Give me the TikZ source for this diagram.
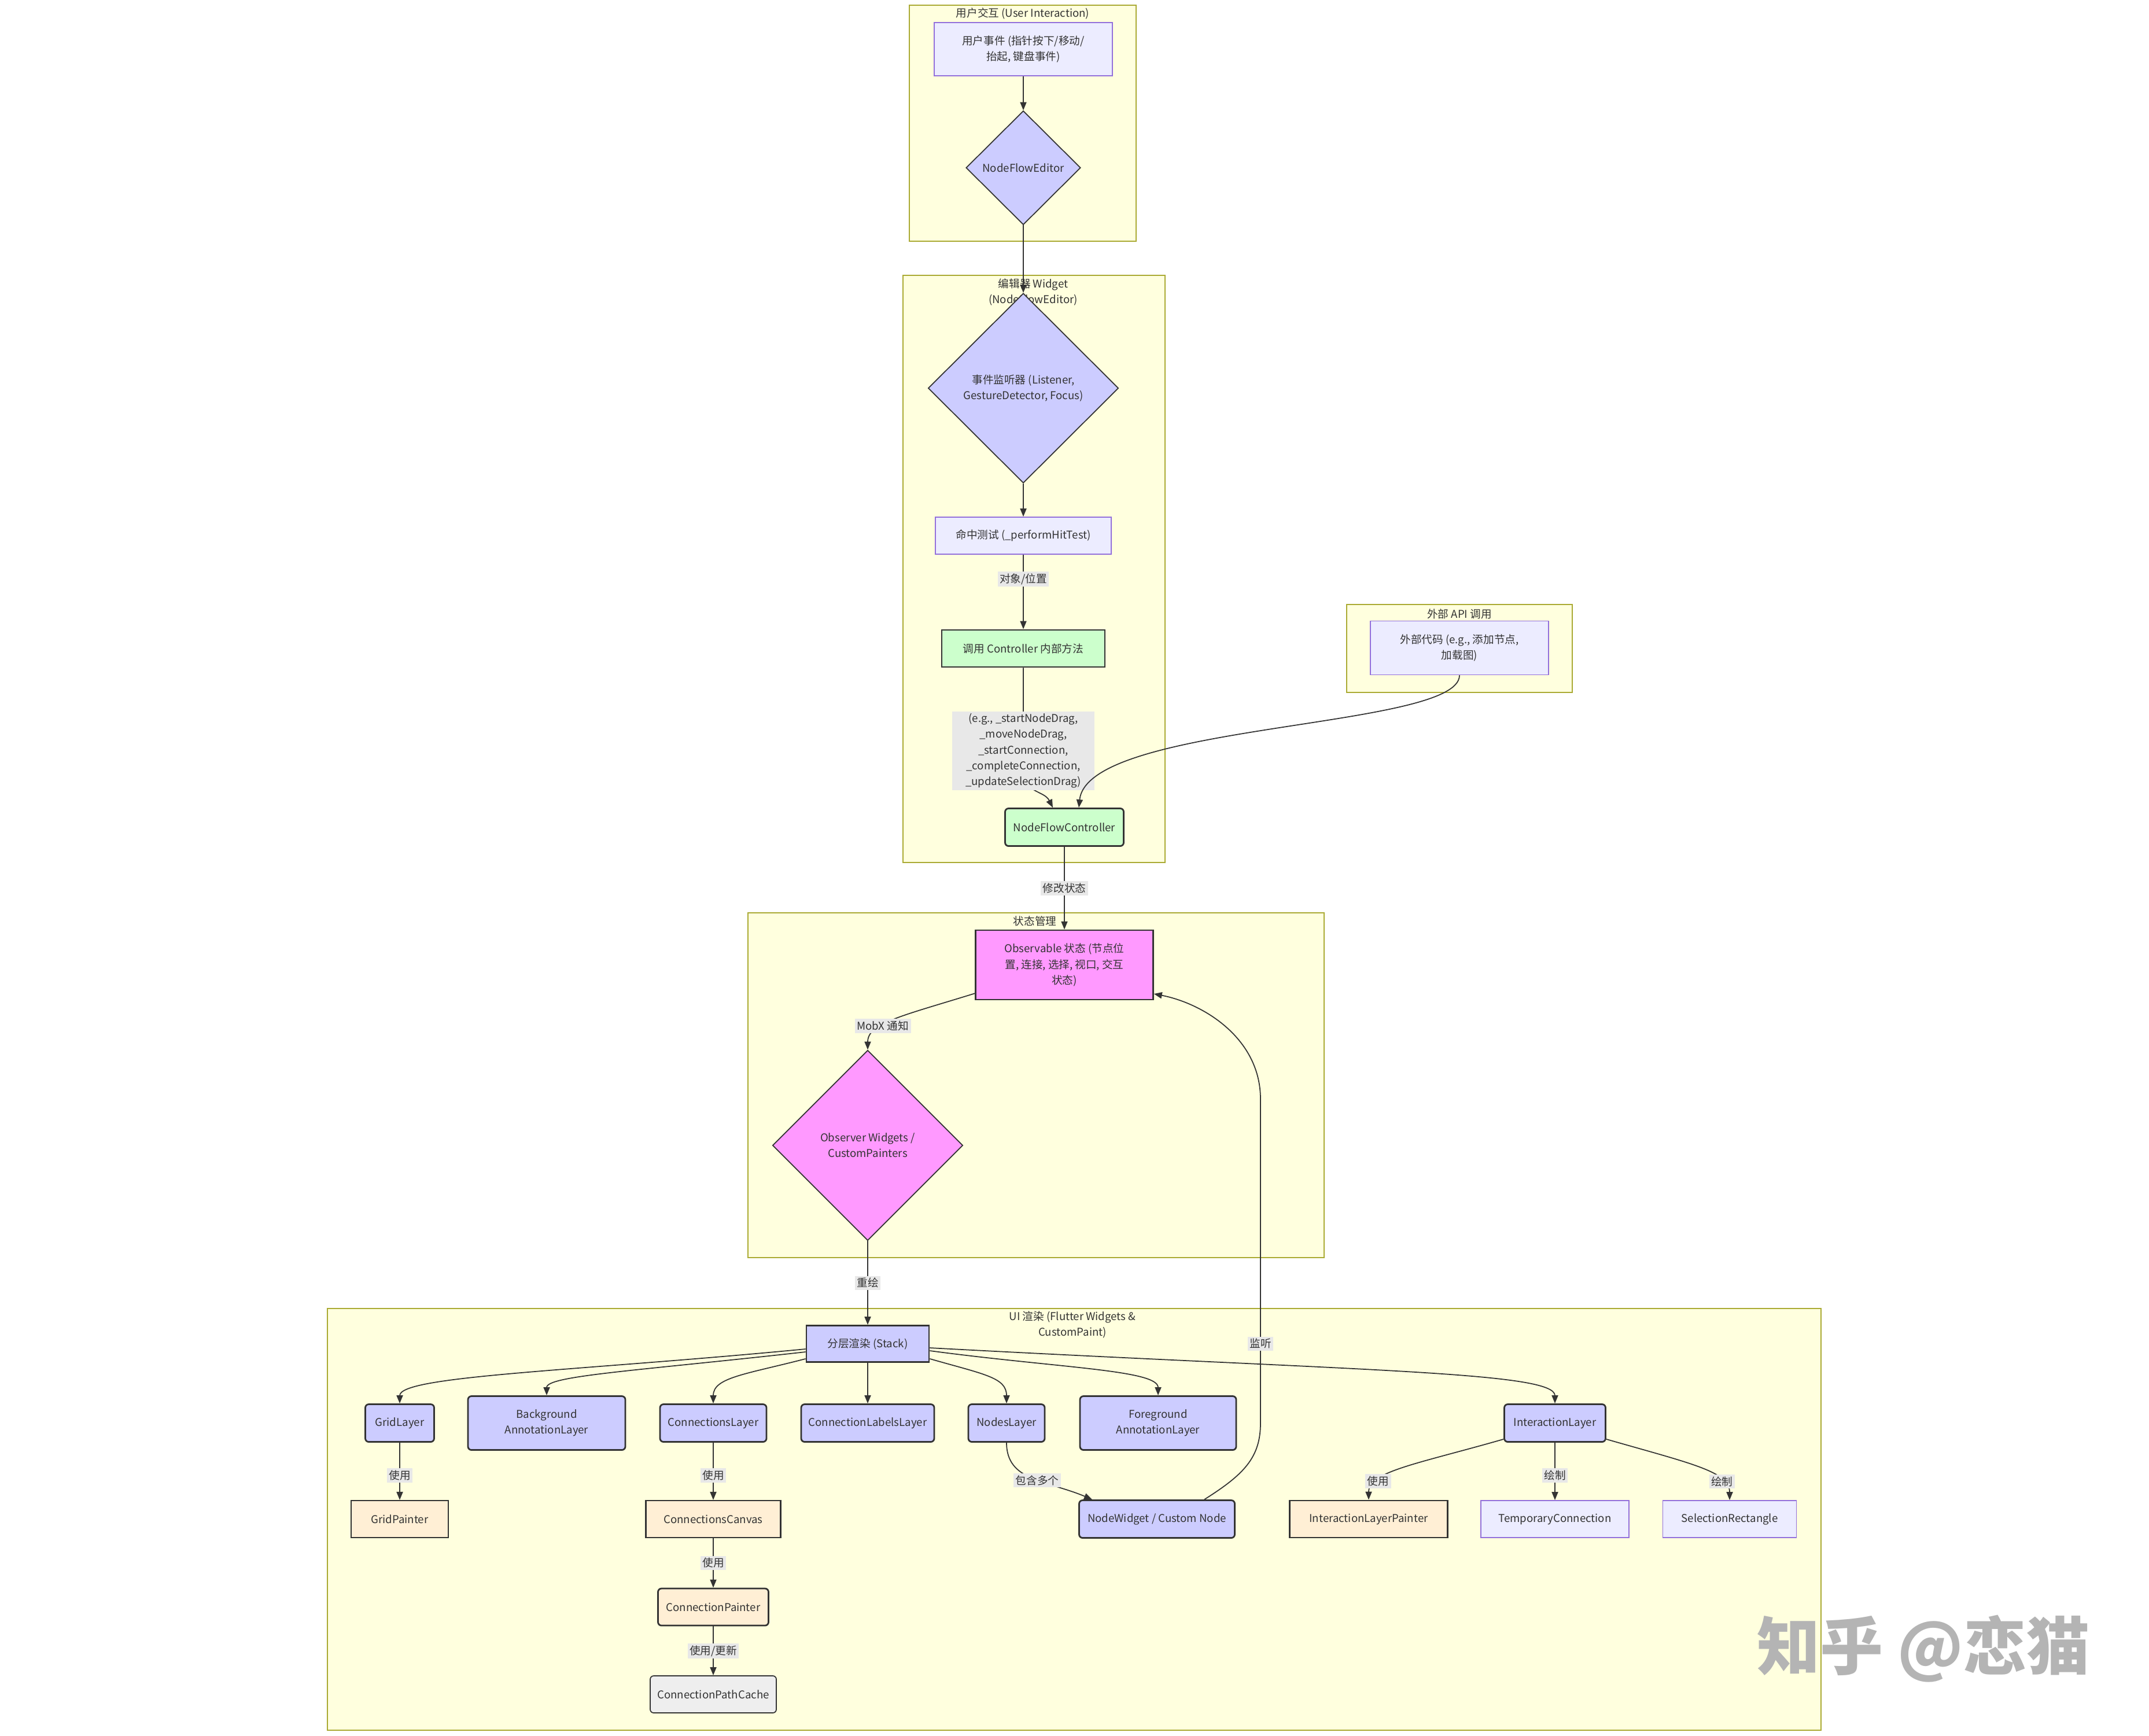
\documentclass[tikz,border=0pt]{standalone}
\usepackage{fontspec}
\setmainfont{Noto Sans CJK SC}
\usepackage{tikz}
\usetikzlibrary{arrows.meta}
\usetikzlibrary{shapes.geometric}
\definecolor{clfill}{HTML}{FFFFDE}
\definecolor{clline}{HTML}{AAAA33}
\definecolor{deffill}{HTML}{ECECFF}
\definecolor{defline}{HTML}{9370DB}
\definecolor{bluefill}{HTML}{CCCCFF}
\definecolor{greenfill}{HTML}{CCFFCC}
\definecolor{pinkfill}{HTML}{FF99FF}
\definecolor{paintfill}{HTML}{FFEFD5}
\definecolor{cachefill}{HTML}{EEEEEE}
\definecolor{labelfill}{HTML}{E8E8E8}
\definecolor{darkline}{HTML}{333333}
\definecolor{wmgray}{HTML}{B4B4B4}
\tikzset{>={Triangle[length=0.28cm,width=0.22cm]}}
\tikzset{every node/.style = {font=\fontsize{10.6pt}{15.5pt}\selectfont, text=darkline, align=center},
plain/.style = {shape=rectangle, draw=defline, fill=deffill, line width=1pt, inner sep=0pt},
decision/.style = {shape=diamond, draw=darkline, fill=bluefill, line width=1pt, inner sep=0pt},
layer/.style = {shape=rectangle, rounded corners=0.12cm, draw=darkline, fill=bluefill, line width=1.6pt, inner sep=0pt},
greenbox/.style = {shape=rectangle, draw=darkline, fill=greenfill, line width=1.6pt, inner sep=0pt},
painterbox/.style = {shape=rectangle, draw=darkline, fill=paintfill, line width=1.2pt, inner sep=0pt},
cluster/.style = {draw=clline, fill=clfill, line width=1pt},
elabel/.style = {fill=labelfill, inner xsep=2pt, inner ysep=2pt},
link/.style = {->, draw=darkline, line width=1pt}}

\begin{document}
\begin{tikzpicture}[x=2cm,y=2cm]
                \useasboundingbox (0,0) rectangle (37.15,-30);

                % subgraphs
                \draw[cluster] (15.72,-0.09) rectangle (19.64,-4.17);
                \draw[cluster] (15.61,-4.76) rectangle (20.14,-14.91);
                \draw[cluster] (23.28,-10.45) rectangle (27.18,-11.97);
                \draw[cluster] (12.93,-15.78) rectangle (22.89,-21.74);
                \draw[cluster] (5.66,-22.62) rectangle (31.48,-29.91);
                \node (tuser) at (17.68,-0.23) {用户交互 (User Interaction)};
                \node (teditor) at (17.86,-5.05) {编辑器 Widget\\(NodeFlowEditor)};
                \node (text) at (25.23,-10.61) {外部 API 调用};
                \node (tstate) at (17.89,-15.92) {状态管理};
                \node (tui) at (18.54,-22.90) {UI 渲染 (Flutter Widgets \&\\CustomPaint)};

                \node[plain, minimum width=6.16cm, minimum height=1.84cm] (evt) at (17.69,-0.85) {用户事件 (指针按下/移动/\\抬起, 键盘事件)};
                \node[decision, minimum width=3.96cm, minimum height=3.94cm] (nfe) at (17.69,-2.90) {NodeFlowEditor};
                \node[decision, minimum width=6.58cm, minimum height=6.56cm] (lis) at (17.69,-6.71) {事件监听器 (Listener,\\GestureDetector, Focus)};
                \node[plain, minimum width=6.08cm, minimum height=1.28cm] (hit) at (17.69,-9.26) {命中测试 (\_performHitTest)};
                \node[greenbox, minimum width=5.64cm, minimum height=1.28cm] (call) at (17.69,-11.21) {调用 Controller 内部方法};
                \node[greenbox, rounded corners=0.12cm, minimum width=4.10cm, minimum height=1.30cm] (ctrl) at (18.40,-14.30) {NodeFlowController};
                \node[plain, minimum width=6.16cm, minimum height=1.86cm] (ext) at (25.23,-11.20) {外部代码 (e.g., 添加节点,\\加载图)};
                \node[greenbox, fill=pinkfill, line width=1.4pt, minimum width=6.14cm, minimum height=2.40cm] (obs) at (18.40,-16.68) {Observable 状态 (节点位\\置, 连接, 选择, 视口, 交互\\状态)};
                \node[decision, fill=pinkfill, minimum width=6.58cm, minimum height=6.58cm] (obsw) at (15.00,-19.80) {Observer Widgets /\\CustomPainters};

                \node[greenbox, fill=bluefill, minimum width=4.24cm, minimum height=1.26cm] (stack) at (15.00,-23.23) {分层渲染 (Stack)};
                \node[layer, minimum width=2.38cm, minimum height=1.30cm] (grid) at (6.91,-24.60) {GridLayer};
                \node[layer, minimum width=5.44cm, minimum height=1.86cm] (bg) at (9.45,-24.60) {Background\\AnnotationLayer};
                \node[layer, minimum width=3.68cm, minimum height=1.30cm] (connl) at (12.33,-24.60) {ConnectionsLayer};
                \node[layer, minimum width=4.60cm, minimum height=1.30cm] (labl) at (15.00,-24.60) {ConnectionLabelsLayer};
                \node[layer, minimum width=2.64cm, minimum height=1.30cm] (nodesl) at (17.40,-24.60) {NodesLayer};
                \node[layer, minimum width=5.40cm, minimum height=1.86cm] (fg) at (20.02,-24.60) {Foreground\\AnnotationLayer};
                \node[layer, minimum width=3.50cm, minimum height=1.30cm] (inter) at (26.88,-24.60) {InteractionLayer};

                \node[painterbox, minimum width=3.36cm, minimum height=1.28cm] (gridp) at (6.91,-26.26) {GridPainter};
                \node[painterbox, minimum width=4.66cm, minimum height=1.28cm] (canvas) at (12.33,-26.26) {ConnectionsCanvas};
                \node[painterbox, rounded corners=0.12cm, line width=1.6pt, minimum width=3.82cm, minimum height=1.28cm] (painter) at (12.33,-27.78) {ConnectionPainter};
                \node[painterbox, fill=cachefill, rounded corners=0.12cm, line width=1pt, minimum width=4.36cm, minimum height=1.28cm] (cache) at (12.33,-29.29) {ConnectionPathCache};
                \node[layer, minimum width=5.38cm, minimum height=1.30cm] (nw) at (20.00,-26.26) {NodeWidget / Custom Node};
                \node[painterbox, line width=1.6pt, minimum width=5.46cm, minimum height=1.28cm] (ilp) at (23.66,-26.26) {InteractionLayerPainter};
                \node[plain, minimum width=5.12cm, minimum height=1.28cm] (temp) at (26.88,-26.26) {TemporaryConnection};
                \node[plain, minimum width=4.62cm, minimum height=1.28cm] (sel) at (29.90,-26.26) {SelectionRectangle};

                \node[font=\fontsize{62pt}{62pt}\selectfont\bfseries, text=wmgray] (wm) at (33.25,-28.50) {知乎 @恋猫};

                \draw[link] (evt) -- (nfe);
                \draw[link] (nfe) -- (lis);
                \draw[link] (lis) -- (hit);
                \draw[link] (hit) -- node[elabel, pos=0.33] {对象/位置} (call);
                \draw[link] (call.south) -- ++(0,-1.77) node[elabel, pos=0.81, inner xsep=13pt] {(e.g., \_startNodeDrag,\\\_moveNodeDrag,\\\_startConnection,\\\_completeConnection,\\\_updateSelectionDrag)}
                    .. controls +(0,-0.4) and +(-0.15,0.3) .. ([xshift=-0.4cm]ctrl.north);
                \draw[link] (ext.south) .. controls +(0,-0.93) and +(0.15,1.47) .. ([xshift=0.5cm]ctrl.north);
                \draw[link] (ctrl) -- node[elabel] {修改状态} (obs);
                \draw[link] ([yshift=0.24cm]obs.south west) .. controls +(-1.26,-0.39) and +(0,0.46) .. node[elabel, pos=0.62] {MobX 通知} (obsw.north);
                \draw[link] (obsw) -- node[elabel] {重绘} (stack);

                \draw[link] ([yshift=-0.18cm]stack.west) .. controls +(-3.94,-0.38) and +(0,0.48) .. (grid.north);
                \draw[link] ([yshift=-0.28cm]stack.west) .. controls +(-2.94,-0.33) and +(0,0.34) .. (bg.north);
                \draw[link] ([yshift=0.14cm]stack.south west) .. controls +(-1.04,-0.27) and +(0,0.45) .. (connl.north);
                \draw[link] (stack) -- (labl);
                \draw[link] ([yshift=0.14cm]stack.south east) .. controls +(0.94,-0.27) and +(0,0.45) .. (nodesl.north);
                \draw[link] ([yshift=-0.24cm]stack.east) .. controls +(2.24,-0.30) and +(0,0.44) .. (fg.north);
                \draw[link] ([yshift=-0.14cm]stack.east) .. controls +(7.44,-0.40) and +(0,0.55) .. (inter.north);

                \draw[link] (grid) -- node[elabel, pos=0.57] {使用} (gridp);
                \draw[link] (connl) -- node[elabel, pos=0.57] {使用} (canvas);
                \draw[link] (canvas) -- node[elabel] {使用} (painter);
                \draw[link] (painter) -- node[elabel] {使用/更新} (cache);
                \draw[link] (nodesl.south) .. controls +(0,-0.67) and +(-0.78,0.33) .. node[elabel, pos=0.55] {包含多个} ([xshift=-2.24cm]nw.north);
                \draw[link] ([xshift=1.64cm]nw.north) .. controls +(0.68,0.43) and +(0,-0.6) .. (21.79,-24.60)
                    -- node[elabel, pos=0.245] {监听} (21.79,-19.00)
                    .. controls +(0,1.04) and +(0.87,-0.17) .. ([yshift=-1cm]obs.east);
                \draw[link] ([yshift=0.12cm]inter.south west) .. controls +(-1.5,-0.43) and +(0,0.49) .. node[elabel, pos=0.74] {使用} (ilp.north);
                \draw[link] (inter) -- node[elabel, pos=0.57] {绘制} (temp);
                \draw[link] ([yshift=0.12cm]inter.south east) .. controls +(1.5,-0.43) and +(0,0.49) .. node[elabel, pos=0.74] {绘制} (sel.north);
            \end{tikzpicture}
\end{document}
